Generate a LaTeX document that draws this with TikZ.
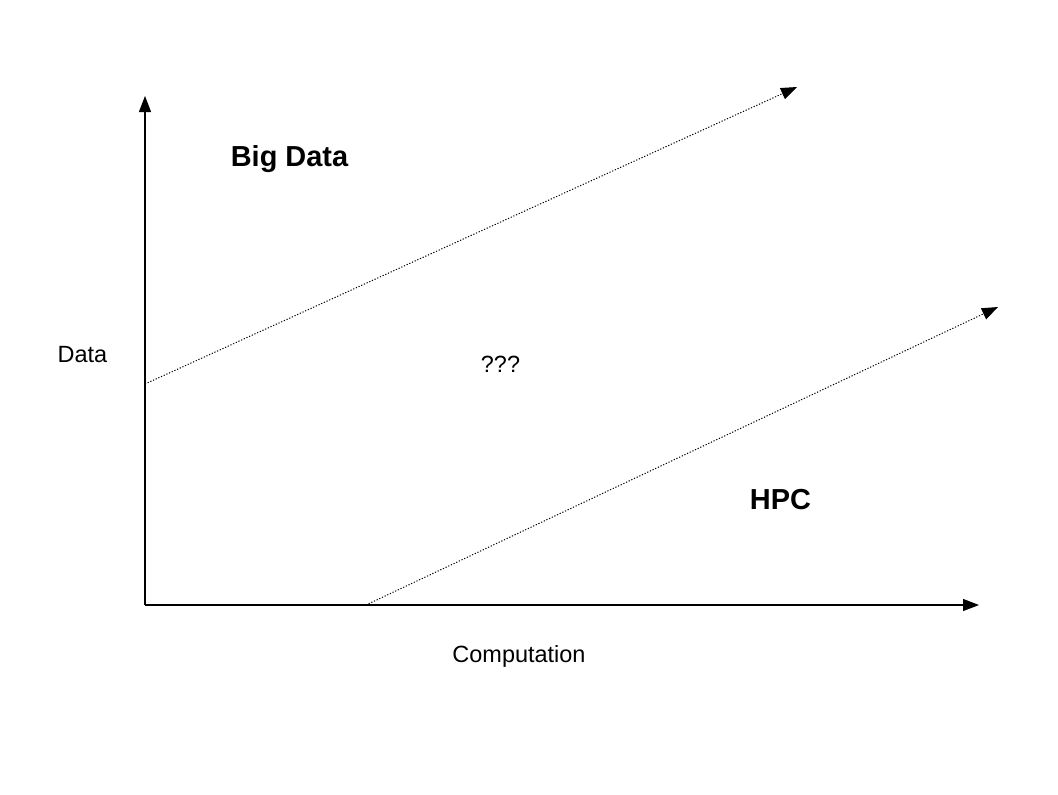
\documentclass[tikz,border=0pt]{standalone}
\usepackage{fontspec}
\setmainfont{Liberation Sans}
\usetikzlibrary{arrows.meta}
\begin{document}
\begin{tikzpicture}[x=0.75pt,y=-0.75pt,
  axis/.style={line width=0.8pt,-{Triangle[length=12pt,width=9pt]}},
  trend/.style={line width=0.75pt,dash pattern=on 0.9pt off 1.3pt,-{Triangle[length=12pt,width=9pt]}},
  lbl/.style={inner sep=0pt,anchor=base,font=\fontsize{17.6}{20}\selectfont},
  blbl/.style={inner sep=0pt,anchor=base,font=\fontsize{21.7}{24}\selectfont\bfseries}]
\useasboundingbox[fill=white] (0,0) rectangle (1058,794);
\coordinate (o) at (145,605);
\coordinate (ytip) at (145,96);
\coordinate (xtip) at (979,605);
\coordinate (a1) at (145,384);
\coordinate (a1tip) at (797,87);
\coordinate (a2) at (366,605);
\coordinate (a2tip) at (998,307);
\draw[axis] (o) -- (ytip);
\draw[axis] (o) -- (xtip);
\draw[trend] (a1) -- (a1tip);
\draw[trend] (a2) -- (a2tip);
\node[blbl] (bigdata) at (289.5,166) {Big Data};
\node[blbl] (hpc) at (780.5,509) {HPC};
\node[lbl] (q) at (500.5,372) {???};
\node[lbl] (data) at (82.5,362) {Data};
\node[lbl] (comp) at (519,662) {Computation};
\end{tikzpicture}
\end{document}
